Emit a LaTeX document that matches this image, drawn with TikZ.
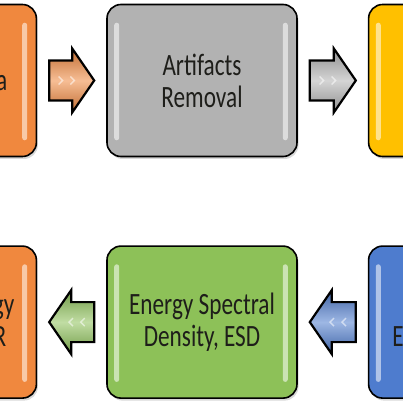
\documentclass[tikz,border=0pt]{standalone}
\usepackage{fontspec}
\usepackage{tikz}
\usetikzlibrary{calc, positioning, shadows}
\newfontfamily\boxfont[FakeStretch=0.75]{Carlito}
\definecolor{stepOrange}{RGB}{240,136,62}
\definecolor{stepGrey}{RGB}{178,178,178}
\definecolor{stepYellow}{RGB}{255,192,0}
\definecolor{stepGreen}{RGB}{141,193,88}
\definecolor{stepBlue}{RGB}{78,124,206}
\definecolor{textDark}{RGB}{30,30,26}

\begin{document}
\begin{tikzpicture}[x=1pt, y=-1pt,
  stage/.style={draw=black, line width=1.6pt, rounded corners=14pt, minimum width=190pt,
    minimum height=152pt, inner sep=0pt, align=center, text=textDark,
    font=\boxfont\fontsize{31}{32}\selectfont,
    drop shadow={shadow xshift=1.5pt, shadow yshift=-2.5pt, opacity=0.3}},
  gloss/.style={fill=white, fill opacity=0.55, rounded corners=2.5pt},
  blockarrow/.style={draw=black, line width=2.2pt},
  glint/.style={white, opacity=0.55, line width=1.4pt}]
  \useasboundingbox (0,0) rectangle (403,403);
  \clip (0,0) rectangle (403,403);
  \node[stage, fill=stepGrey] (art) at (202,80.5) {Artifacts\\Removal};
  \node[stage, fill=stepOrange, left=69pt of art] (raw) {Raw EEG Data};
  \node[stage, fill=stepYellow, right=70pt of art] (filt) {};
  \node[stage, fill=stepGreen, below=88pt of art] (esd) {Energy Spectral\\Density, ESD};
  \node[stage, fill=stepOrange, left=69pt of esd, align=right] (ser) {Spectral Energy\\Ratio, SER\hspace*{8pt}};
  \node[stage, fill=stepBlue, right=70pt of esd] (fft) {Feature\\Extraction, DFT};
  \foreach \n in {raw,art,filt,esd,ser,fft} {
    \fill[gloss] ($(\n.north west)+(8,19)$) rectangle ($(\n.south west)+(13,-17)$);
    \fill[gloss] ($(\n.north east)+(-15,19)$) rectangle ($(\n.south east)+(-10,-17)$);
  }
  \foreach \a/\b/\col in {raw.east/art.west/stepOrange, art.east/filt.west/stepGrey,
                          fft.west/esd.east/stepBlue, esd.west/ser.east/stepGreen} {
    \coordinate (t) at ($(\a)!12pt!(\b)$);
    \coordinate (h) at ($(\b)!12pt!(\a)$);
    \coordinate (k) at ($(h)!22pt!(t)$);
    \draw[blockarrow, top color=\col!80!black, bottom color=\col!80!black, middle color=\col!55!white]
      ($(t)!20pt!90:(h)$) -- ($(k)!20pt!90:(h)$) -- ($(k)!32pt!90:(h)$) -- (h)
      -- ($(k)!32pt!-90:(h)$) -- ($(k)!20pt!-90:(h)$) -- ($(t)!20pt!-90:(h)$) -- cycle;
    \foreach \f in {0.3,0.56} {
      \coordinate (p) at ($(t)!\f!(h)$);
      \coordinate (q) at ($(p)!4pt!(t)$);
      \draw[glint] ($(q)!4pt!90:(p)$) -- (p) -- ($(q)!4pt!-90:(p)$);
    }
  }
\end{tikzpicture}
\end{document}
